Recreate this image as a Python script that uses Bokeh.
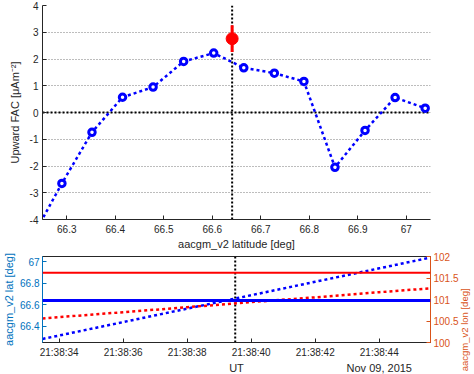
import math
from datetime import datetime
from bokeh.plotting import figure
from bokeh.models import (Range1d, LinearAxis, Span, FixedTicker, CustomJSTickFormatter,
                          NumeralTickFormatter, DatetimeTickFormatter, SingleIntervalTicker)
from bokeh.layouts import column
from bokeh.embed import file_html
from bokeh.resources import INLINE

FONT = "Liberation Sans"
DARK = "#262626"
LEFT_C = "#0072BD"
RIGHT_C = "#D95319"

# ---- data: FAC vs latitude ----
fac_lat = [66.228, 66.290, 66.352, 66.415, 66.478, 66.541, 66.603, 66.665,
           66.728, 66.789, 66.853, 66.915, 66.977, 67.039]
fac_val = [-4.7, -2.65, -0.74, 0.57, 0.95, 1.91, 2.22, 1.67,
           1.47, 1.16, -2.05, -0.67, 0.56, 0.16]
event_lat = [66.641]
event_fac = [2.76]
event_fac_lo = [2.26]
event_fac_hi = [3.26]
event_lon = 101.62
event_time = datetime(2015, 11, 9, 21, 38, 39, 500000)

# ---- data: track vs time ----
track_time = [datetime(2015, 11, 9, 21, 38, 33, 480000),
              datetime(2015, 11, 9, 21, 38, 34),
              datetime(2015, 11, 9, 21, 38, 36),
              datetime(2015, 11, 9, 21, 38, 38),
              datetime(2015, 11, 9, 21, 38, 40),
              datetime(2015, 11, 9, 21, 38, 42),
              datetime(2015, 11, 9, 21, 38, 44),
              datetime(2015, 11, 9, 21, 38, 45, 600000)]
track_lat = [66.283, 66.315, 66.44, 66.565, 66.69, 66.815, 66.94, 67.04]
track_lon = [100.56, 100.59, 100.705, 100.82, 100.94, 101.05, 101.17, 101.26]

fac_ticks = [-4, -3, -2, -1, 0, 1, 2, 3, 4]
lat_ticks = [66.3, 66.4, 66.5, 66.6, 66.7, 66.8, 66.9, 67.0]
lat_ticks_lower = [66.4, 66.6, 66.8, 67.0]
lon_ticks = [100, 100.5, 101, 101.5, 102]
time_label = "UT"
date_text = "Nov 09, 2015"
lon_label = "aacgm_v2 lon [deg]"

FW = 388
MBL = 40
MBR = 46

EPOCH = datetime(1970, 1, 1)


def to_ms(dt):
    return (dt - EPOCH).total_seconds() * 1000.0


def style_axis(ax, color=DARK):
    ax.axis_line_color = color
    ax.major_tick_line_color = color
    ax.minor_tick_line_color = None
    ax.major_tick_in = 4
    ax.major_tick_out = 0
    ax.major_label_text_color = color
    ax.major_label_text_font = FONT
    ax.major_label_text_font_size = "10px"
    ax.axis_label_text_color = color
    ax.axis_label_text_font = FONT
    ax.axis_label_text_font_size = "11px"
    ax.axis_label_text_font_style = "normal"


# ---------------- top plot ----------------
p1 = figure(frame_width=FW, frame_height=214, x_range=Range1d(66.25, 67.05),
            y_range=Range1d(-4, 4), output_backend="svg", toolbar_location=None,
            min_border_left=MBL, min_border_right=MBR, min_border_top=5,
            min_border_bottom=33)
p1.outline_line_color = None
p1.xgrid.visible = False
p1.yaxis.ticker = FixedTicker(ticks=fac_ticks)
p1.xaxis.ticker = FixedTicker(ticks=lat_ticks)
p1.xaxis.formatter = NumeralTickFormatter(format="0.[0]")
p1.yaxis.formatter = NumeralTickFormatter(format="0")
p1.ygrid.ticker = FixedTicker(ticks=fac_ticks)
p1.ygrid.grid_line_color = "#7a7a7a"
p1.ygrid.grid_line_dash = "1 2"
p1.ygrid.grid_line_width = 1
style_axis(p1.xaxis[0])
style_axis(p1.yaxis[0])
p1.xaxis.axis_label = "aacgm_v2 latitude [deg]"
p1.yaxis.axis_label = "Upward FAC [μAm⁻²]"
p1.xaxis.major_label_standoff = 5
p1.xaxis.axis_label_standoff = 2
p1.yaxis.major_label_standoff = 4
p1.yaxis.axis_label_standoff = 6

p1.add_layout(Span(location=0, dimension="width", line_color="black",
                   line_dash="2 2", line_width=2, level="underlay"))
p1.add_layout(Span(location=event_lat[0], dimension="height", line_color="black",
                   line_dash="2 2", line_width=2, level="underlay"))

p1.line(fac_lat, fac_val, line_color="#0000FF", line_width=2.5, line_dash="3 3")
p1.scatter(fac_lat, fac_val, size=6.5, line_color="#0000FF", line_width=3,
           fill_color="white")
p1.segment(x0=event_lat, y0=event_fac_lo, x1=event_lat, y1=event_fac_hi,
           line_color="#FF0000", line_width=3)
p1.scatter(event_lat, event_fac, size=12, fill_color="#FF0000", line_color="#FF0000")

# ---------------- bottom plot ----------------
p2 = figure(frame_width=FW, frame_height=86, x_axis_type="datetime",
            x_range=Range1d(track_time[0], track_time[-1]),
            y_range=Range1d(66.25, 67.05), output_backend="svg",
            toolbar_location=None, min_border_left=MBL, min_border_right=MBR,
            min_border_top=4, min_border_bottom=4)
p2.extra_y_ranges = {"lon": Range1d(100, 102)}
p2.grid.visible = False
p2.outline_line_color = DARK

fmt = DatetimeTickFormatter(seconds="%H:%M:%S", milliseconds="%H:%M:%S",
                            minsec="%H:%M:%S", minutes="%H:%M:%S")
p2.xaxis.ticker = SingleIntervalTicker(interval=2000, num_minor_ticks=0)
p2.xaxis.formatter = fmt
style_axis(p2.xaxis[0])
p2.xaxis.major_label_standoff = 4

# second row under the time axis: "UT" (centred) and the date (under last tick)
mid_time_ms = (to_ms(track_time[0]) + to_ms(track_time[-1])) / 2.0
date_tick_ms = to_ms(track_time[-2])
ax_ut = LinearAxis(ticker=FixedTicker(ticks=[mid_time_ms, date_tick_ms]),
                   formatter=CustomJSTickFormatter(
                       args={"a": time_label, "b": date_text},
                       code="return index == 0 ? a : b;"))
style_axis(ax_ut)
ax_ut.major_label_text_font_size = "11px"
ax_ut.axis_line_color = None
ax_ut.major_tick_line_color = None
ax_ut.major_tick_in = 0
ax_ut.major_label_standoff = 1
p2.add_layout(ax_ut, "below")

p2.yaxis.ticker = FixedTicker(ticks=lat_ticks_lower)
p2.yaxis.formatter = NumeralTickFormatter(format="0.[0]")
style_axis(p2.yaxis[0], LEFT_C)
p2.yaxis.axis_label = "aacgm_v2 lat [deg]"
p2.yaxis.major_label_standoff = 3
p2.yaxis.axis_label_standoff = 2

ax_r = LinearAxis(y_range_name="lon", ticker=FixedTicker(ticks=lon_ticks),
                  formatter=NumeralTickFormatter(format="0.[0]"))
style_axis(ax_r, RIGHT_C)
ax_r.major_label_standoff = 3
p2.add_layout(ax_r, "right")

# right-hand axis title, reading bottom-to-top like MATLAB's yyaxis label
ax_r_title = LinearAxis(y_range_name="lon", ticker=FixedTicker(ticks=[101]),
                        formatter=CustomJSTickFormatter(args={"t": lon_label},
                                                        code="return t;"))
style_axis(ax_r_title, RIGHT_C)
ax_r_title.major_label_text_font_size = "9.5px"
ax_r_title.axis_line_color = None
ax_r_title.major_tick_line_color = None
ax_r_title.major_tick_in = 0
ax_r_title.major_label_standoff = 3
ax_r_title.major_label_orientation = math.pi / 2
p2.add_layout(ax_r_title, "right")

p2.add_layout(Span(location=event_time, dimension="height", line_color="black",
                   line_dash="2 2", line_width=2, level="underlay"))
p2.add_layout(Span(location=event_lat[0], dimension="width", line_color="#0000FF",
                   line_width=3))
p2.add_layout(Span(location=event_lon, dimension="width", y_range_name="lon",
                   line_color="#FF0000", line_width=2))
p2.line(track_time, track_lat, line_color="#0000FF", line_width=2.5, line_dash="3 3")
p2.line(track_time, track_lon, y_range_name="lon", line_color="#FF0000",
        line_width=2.5, line_dash="3 3")

layout = column(p1, p2, spacing=0)
open("out.html", "w").write(file_html(layout, INLINE))
